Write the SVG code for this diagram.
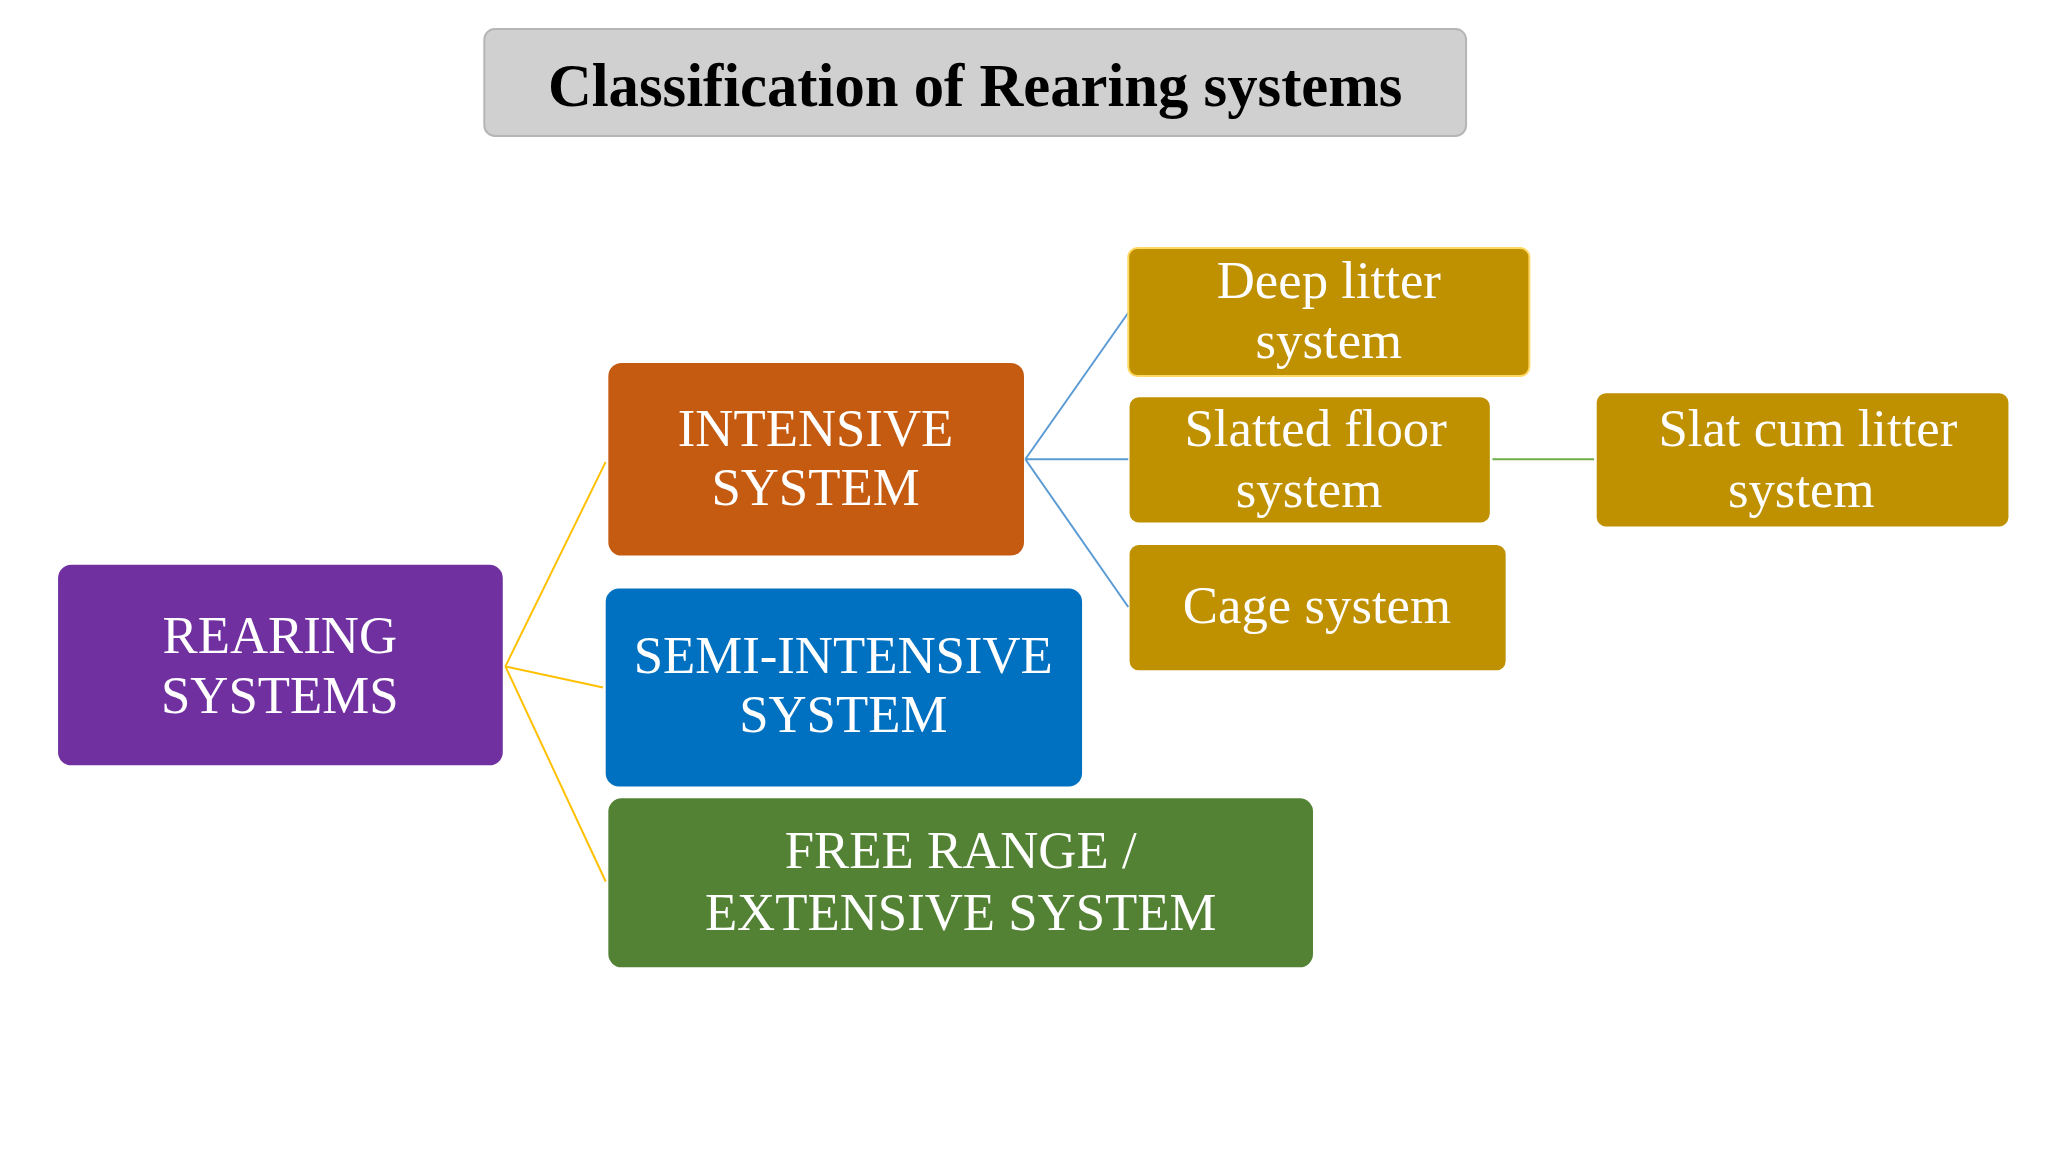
<svg xmlns="http://www.w3.org/2000/svg" width="2048" height="1152" viewBox="0 0 2048 1152">
<style>
text{font-family:"Liberation Serif","Times New Roman",serif;fill:#fff;font-size:40px;text-anchor:middle}
.t{fill:#000;font-weight:bold;font-size:46px}
.g{fill:#bf9000}
</style>
<rect width="2048" height="1152" fill="#fff"/>
<g transform="scale(1.3196)">
<g id="title"><rect x="367" y="22" width="744" height="81" rx="8" fill="#d0d0d0" stroke="#b5b5b5" stroke-width="1.5"/><text class="t" x="739" y="80">Classification of Rearing systems</text></g>
<g id="connectors" fill="none" stroke-width="1.5">
<path d="M383 505L459 350M383 505L457 521M383 505L459 668" stroke="#ffc000"/>
<path d="M777 348L855 237M777 348H855M777 348L855 460" stroke="#5b9bd5"/>
<path d="M1131 348H1208" stroke="#70ad47"/>
</g>
<g id="rearing"><rect x="44" y="428" width="337" height="152" rx="10" fill="#7030a0"/><text x="212" y="495">REARING</text><text x="212" y="540">SYSTEMS</text></g>
<g id="intensive"><rect x="461" y="275" width="315" height="146" rx="10" fill="#c55a11"/><text x="618" y="338">INTENSIVE</text><text x="618" y="383">SYSTEM</text></g>
<g id="semi"><rect x="459" y="446" width="361" height="150" rx="10" fill="#0070c0"/><text x="639" y="510">SEMI-INTENSIVE</text><text x="639" y="555">SYSTEM</text></g>
<g id="free"><rect x="461" y="605" width="534" height="128" rx="10" fill="#548235"/><text x="728" y="658">FREE RANGE /</text><text x="728" y="705">EXTENSIVE SYSTEM</text></g>
<g id="deep"><rect class="g" x="855" y="188" width="304" height="97" rx="7" stroke="#ffd966" stroke-width="1.5"/><text x="1007" y="226">Deep litter</text><text x="1007" y="271">system</text></g>
<g id="slatted"><rect class="g" x="856" y="301" width="273" height="95" rx="7"/><text x="997" y="338">Slatted floor</text><text x="992" y="384">system</text></g>
<g id="cage"><rect class="g" x="856" y="413" width="285" height="95" rx="7"/><text x="998" y="472">Cage system</text></g>
<g id="slatcum"><rect class="g" x="1210" y="298" width="312" height="101" rx="7"/><text x="1370" y="338">Slat cum litter</text><text x="1365" y="384">system</text></g>
</g>
</svg>
